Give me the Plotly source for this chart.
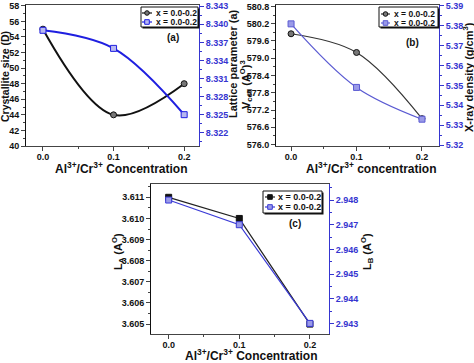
import plotly.graph_objects as go

# ---- data ----
conc = [0.0, 0.1, 0.2]
tick_labels = ["0.0", "0.1", "0.2"]
cryst_size = [55, 44, 48]
lattice_a = [8.339, 8.336, 8.325]
v_cell = [579.85, 579.2, 576.9]
xray_density = [5.381, 5.349, 5.333]
l_a = [3.611, 3.610, 3.605]
l_b = [2.948, 2.947, 2.943]
legend_name = "x = 0.0-0.2"

W, H = 474, 363
def px(x): return x / W
def py(y): return 1 - y / H

BLK = "#111111"
BLUE_A = "#1f1fe0"
BLUE_B = "#5a5ad2"
BLUE_C = "#3a3ad6"
TICKBLUE = "#3535d0"
FONT = "Liberation Sans"

fig = go.Figure()

styles = {
    "a_k": dict(line=dict(color=BLK, width=2, shape="spline"),
                marker=dict(symbol="circle", size=6, color="#777777", line=dict(color=BLK, width=1))),
    "a_b": dict(line=dict(color=BLUE_A, width=2, shape="spline"),
                marker=dict(symbol="square", size=6, color="#b8b8f0", line=dict(color=BLUE_A, width=1))),
    "b_k": dict(line=dict(color="#333333", width=1.2, shape="spline"),
                marker=dict(symbol="circle", size=6, color="#777777", line=dict(color=BLK, width=1))),
    "b_b": dict(line=dict(color=BLUE_B, width=1.2, shape="spline"),
                marker=dict(symbol="square", size=6, color="#9a9ae8", line=dict(color=BLUE_B, width=1))),
    "c_k": dict(line=dict(color="#222222", width=1.3),
                marker=dict(symbol="square", size=6, color=BLK, line=dict(color=BLK, width=1))),
    "c_b": dict(line=dict(color=BLUE_C, width=1.2),
                marker=dict(symbol="square", size=6, color="#9a9ae8", line=dict(color=BLUE_C, width=1))),
}

def add(y, key, xa, ya):
    fig.add_trace(go.Scatter(x=conc, y=y, mode="lines+markers", name=legend_name,
                             showlegend=False, xaxis=xa, yaxis=ya, **styles[key]))

add(cryst_size, "a_k", "x", "y")
add(lattice_a, "a_b", "x", "y2")
add(v_cell, "b_k", "x2", "y3")
add(xray_density, "b_b", "x2", "y4")
add(l_a, "c_k", "x3", "y5")
add(l_b, "c_b", "x3", "y6")

tickfont_k = dict(family=FONT, size=9, color=BLK, weight="bold")
tickfont_b = dict(family=FONT, size=9, color=TICKBLUE, weight="bold")

def xax(dom, rng, anchor):
    return dict(domain=dom, range=rng, anchor=anchor, tickmode="array", tickvals=conc,
                ticktext=tick_labels, ticks="outside", ticklen=4, tickwidth=1,
                ticklabelstandoff=-2,
                minor=dict(ticks="outside", ticklen=2, dtick=0.05, tick0=0),
                showline=True, linecolor="#444444", linewidth=1, mirror=True,
                showgrid=False, zeroline=False, tickfont=tickfont_k, automargin=False)

def yleft(dom, rng, anchor, dtick, tick0, minor, fmt):
    return dict(domain=dom, range=rng, anchor=anchor, dtick=dtick, tick0=tick0,
                ticks="outside", ticklen=4, tickwidth=1, tickformat=fmt,
                minor=dict(ticks="outside", ticklen=2, dtick=minor),
                showline=True, linecolor=BLK, linewidth=1, showgrid=False,
                zeroline=False, tickfont=tickfont_k, automargin=False)

def yright(over, rng, anchor, dtick, tick0, minor, fmt):
    return dict(overlaying=over, side="right", range=rng, anchor=anchor, dtick=dtick,
                tick0=tick0, ticks="outside", ticklen=4, tickwidth=1, tickformat=fmt,
                tickcolor=TICKBLUE,
                minor=dict(ticks="outside", ticklen=2, dtick=minor, tickcolor=TICKBLUE),
                showline=True, linecolor=TICKBLUE, linewidth=1, showgrid=False,
                zeroline=False, tickfont=tickfont_b, automargin=False)

dom_top = [py(146), py(5)]
dom_c = [py(334), py(184)]

fig.update_layout(
    width=W, height=H, margin=dict(l=0, r=0, t=0, b=0),
    paper_bgcolor="white", plot_bgcolor="white",
    showlegend=False,
    xaxis=xax([px(26), px(199)], [-0.024, 0.221], "y"),
    yaxis=yleft(dom_top, [40, 58.1], "x", 2, 40, 1, "d"),
    yaxis2=yright("y", [8.3198, 8.3432], "x", 0.003, 8.322, 0.0015, ".3f"),
    xaxis2=xax([px(276), px(439)], [-0.023, 0.226], "y3"),
    yaxis3=yleft(dom_top, [575.95, 580.85], "x2", 0.6, 576.6, 0.3, ".1f"),
    yaxis4=yright("y3", [5.3195, 5.3905], "x2", 0.01, 5.32, 0.005, ".2f"),
    xaxis3=xax([px(151), px(329)], [-0.025, 0.227], "y5"),
    yaxis5=yleft(dom_c, [3.60453, 3.61163], "x3", 0.001, 3.605, 0.0005, ".3f"),
    yaxis6=yright("y5", [2.94257, 2.94865], "x3", 0.001, 2.943, 0.0005, ".3f"),
)

title_font = dict(family=FONT, size=11, color=BLK, weight="bold")
def ann(text, x, y, angle=0, size=11, xanchor="center"):
    f = dict(title_font); f["size"] = size
    fig.add_annotation(text=text, x=px(x), y=py(y), xref="paper", yref="paper",
                       showarrow=False, textangle=angle, font=f,
                       xanchor=xanchor, yanchor="middle")

# ---- legend boxes (drawn in paper space) ----
def legend_box(x0, y0, x1, y1, rows, keys, s0, s1, tx, fsize):
    fig.add_shape(type="rect", xref="paper", yref="paper",
                  x0=px(x0 + 1.5), y0=py(y1 + 1.5), x1=px(x1 + 1.5), y1=py(y0 + 1.5),
                  line=dict(width=0), fillcolor=BLK, layer="above")
    fig.add_shape(type="rect", xref="paper", yref="paper",
                  x0=px(x0), y0=py(y1), x1=px(x1), y1=py(y0),
                  line=dict(width=1, color=BLK), fillcolor="white", layer="above")
    for ry, key in zip(rows, keys):
        st = styles[key]
        fig.add_shape(type="line", xref="paper", yref="paper",
                      x0=px(s0), x1=px(s1), y0=py(ry), y1=py(ry),
                      line=dict(color=st["line"]["color"], width=1.2), layer="above")
        m = st["marker"]
        cx = (s0 + s1) / 2
        r = 2.3
        fig.add_shape(type="circle" if m["symbol"] == "circle" else "rect",
                      xref="paper", yref="paper",
                      x0=px(cx - r), x1=px(cx + r), y0=py(ry + r), y1=py(ry - r),
                      line=dict(color=m["line"]["color"], width=1), fillcolor=m["color"],
                      layer="above")
        ann(legend_name, tx, ry, size=fsize, xanchor="left")

legend_box(141, 7, 198, 27, [13, 22], ["a_k", "a_b"], 142, 152, 154, 8.5)
legend_box(379, 7, 438, 27, [14, 23], ["b_k", "b_b"], 381, 390, 392, 8.5)
legend_box(263, 191, 322, 213, [197, 207], ["c_k", "c_b"], 265, 275, 276, 9)

ann("(a)", 173, 37, size=10)
ann("(b)", 412, 42, size=10)
ann("(c)", 295, 223, size=10)
ann("Al<sup>3+</sup>/Cr<sup>3+</sup> Concentration", 121, 168, size=12)
ann("Al<sup>3+</sup>/Cr<sup>3+</sup> concentration", 371, 168, size=12)
ann("Al<sup>3+</sup>/Cr<sup>3+</sup> Concentration", 251, 355, size=12)
ann("Crystallite size (D)", 5, 77, -90, size=10.5)
ann("Lattice parameter (a)", 233, 64, -90)
ann("V<sub>cell</sub> (A<sup>O</sup>)<sup>3</sup>", 246, 85, -90)
ann("X-ray density (g/cm<sup>3</sup>)", 468, 77, -90)
ann("L<sub>A</sub> (A<sup>O</sup>)", 118, 252, -90)
ann("L<sub>B</sub> (A<sup>O</sup>)", 367, 252, -90)

fig.write_html("out.html", config={"displayModeBar": False},
               post_script="document.body.style.margin='0';document.body.style.overflow='hidden';")
